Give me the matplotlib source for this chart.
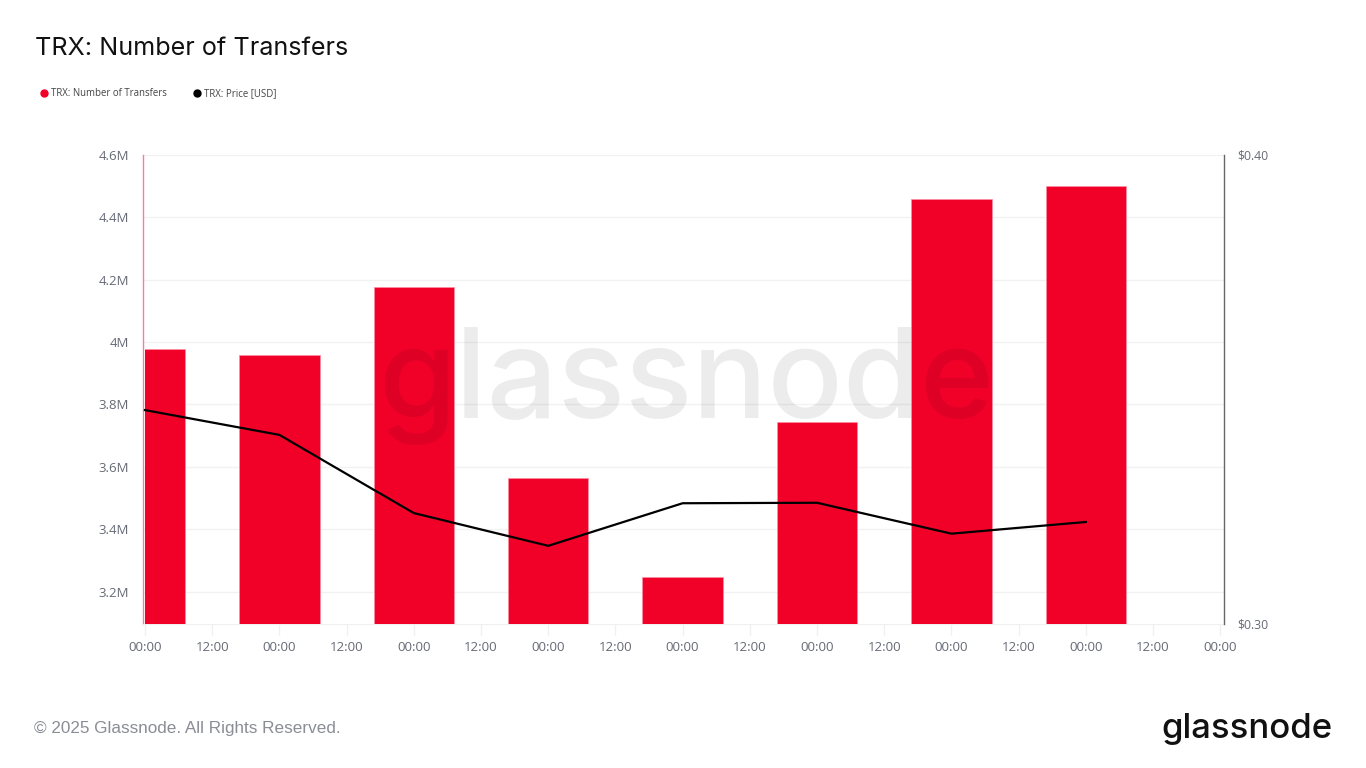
import matplotlib
matplotlib.use("Agg")
import matplotlib.pyplot as plt
from matplotlib.lines import Line2D
from matplotlib.patches import Rectangle

W, H = 1366, 768
days = [0, 1, 2, 3, 4, 5, 6, 7]
transfers_m = [3.979, 3.96, 4.176, 3.564, 3.248, 3.743, 4.458, 4.5]
price_usd = [0.3455, 0.3402, 0.3235, 0.3165, 0.3256, 0.3257, 0.3191, 0.3216]
y_ticks = [3.2, 3.4, 3.6, 3.8, 4.0, 4.2, 4.4, 4.6]
y_labels = ["3.2M", "3.4M", "3.6M", "3.8M", "4M", "4.2M", "4.4M", "4.6M"]
x_ticks = [i * 0.5 for i in range(17)]
x_labels = ["00:00" if i % 2 == 0 else "12:00" for i in range(17)]
RED = "#F10028"
GREY = "#666a75"

fig = plt.figure(figsize=(W / 100, H / 100), dpi=100, facecolor="white")
L, R, T, B = 142.5, 1224, 155, 624
ax = fig.add_axes([L / W, 1 - B / H, (R - L) / W, (B - T) / H])
ax.set_xlim(-2.5 / 134.4, (1224 - 145) / 134.4)
ax.set_ylim(3.096, 4.6)
ax.set_facecolor("none")

bars = ax.bar(days, transfers_m, width=0.597, bottom=0, color=RED,
              edgecolor="#ff8fa3", linewidth=0.5, zorder=3)
clip = Rectangle((0, 3.096), 9, 2, transform=ax.transData)
for b in bars:
    b.set_clip_path(clip)

ax.set_yticks(y_ticks, y_labels)
ax.set_xticks(x_ticks, x_labels)
ax.grid(axis="y", color="#f2f2f2", linewidth=1, zorder=0)
ax.tick_params(axis="y", length=0, pad=9.5, labelsize=9.5, labelcolor=GREY, labelfontfamily="Open Sans")
ax.tick_params(axis="x", length=8, width=1, color="#f0f0f0", pad=4.5, labelsize=9.5,
               labelcolor=GREY, labelfontfamily="Open Sans")
for s in ["top", "right"]:
    ax.spines[s].set_visible(False)
ax.spines["bottom"].set_color("#f0f0f0")
ax.spines["left"].set_color("#f77f94")
ax.spines["left"].set_linewidth(1.0)

ax2 = ax.twinx()
ax2.set_ylim(0.2998, 0.40)
ax2.set_facecolor("none")
ax2.plot(days, price_usd, color="black", linewidth=1.6, zorder=5, solid_joinstyle="round")
ax2.set_yticks([0.30, 0.40], ["$0.30", "$0.40"])
ax2.tick_params(axis="y", length=0, pad=9.6, labelsize=8.8, labelcolor=GREY, labelfontfamily="Open Sans")
for s in ["top", "left", "bottom"]:
    ax2.spines[s].set_visible(False)
ax2.spines["right"].set_color("#666666")
ax2.spines["right"].set_linewidth(1.0)

# watermark sits over bars, behind line
fig.text(685.5 / W, 1 - 418 / H, "glassnode", fontsize=90, family="Inter", fontweight="medium",
         color="black", alpha=0.075, ha="center", va="baseline", zorder=4)

fig.text(35 / W, 1 - 48.5 / H, "TRX: Number of Transfers", fontsize=18.1, family="Inter", color="#111111",
         ha="left", va="center")
handles = [Line2D([], [], marker="o", ls="", ms=5, color=RED),
           Line2D([], [], marker="o", ls="", ms=5, color="black")]
fig.legend(handles, ["TRX: Number of Transfers", "TRX: Price [USD]"],
           loc="center left", bbox_to_anchor=(34.5 / W, 1 - 94 / H), ncols=2, frameon=False,
           prop={"family": "Open Sans", "size": 6.9}, labelcolor="#444444",
           handletextpad=-0.25, columnspacing=2.1, borderpad=0, borderaxespad=0)
fig.text(34 / W, 1 - 728 / H, "© 2025 Glassnode. All Rights Reserved.", fontsize=12.3,
         family="Liberation Sans", color="#8a8d96", ha="left", va="center")
fig.text(1246.5 / W, 1 - 738 / H, "glassnode", fontsize=25, family="Inter", fontweight="medium",
         color="#111111", ha="center", va="baseline")
fig.savefig("out.png", dpi=100)
